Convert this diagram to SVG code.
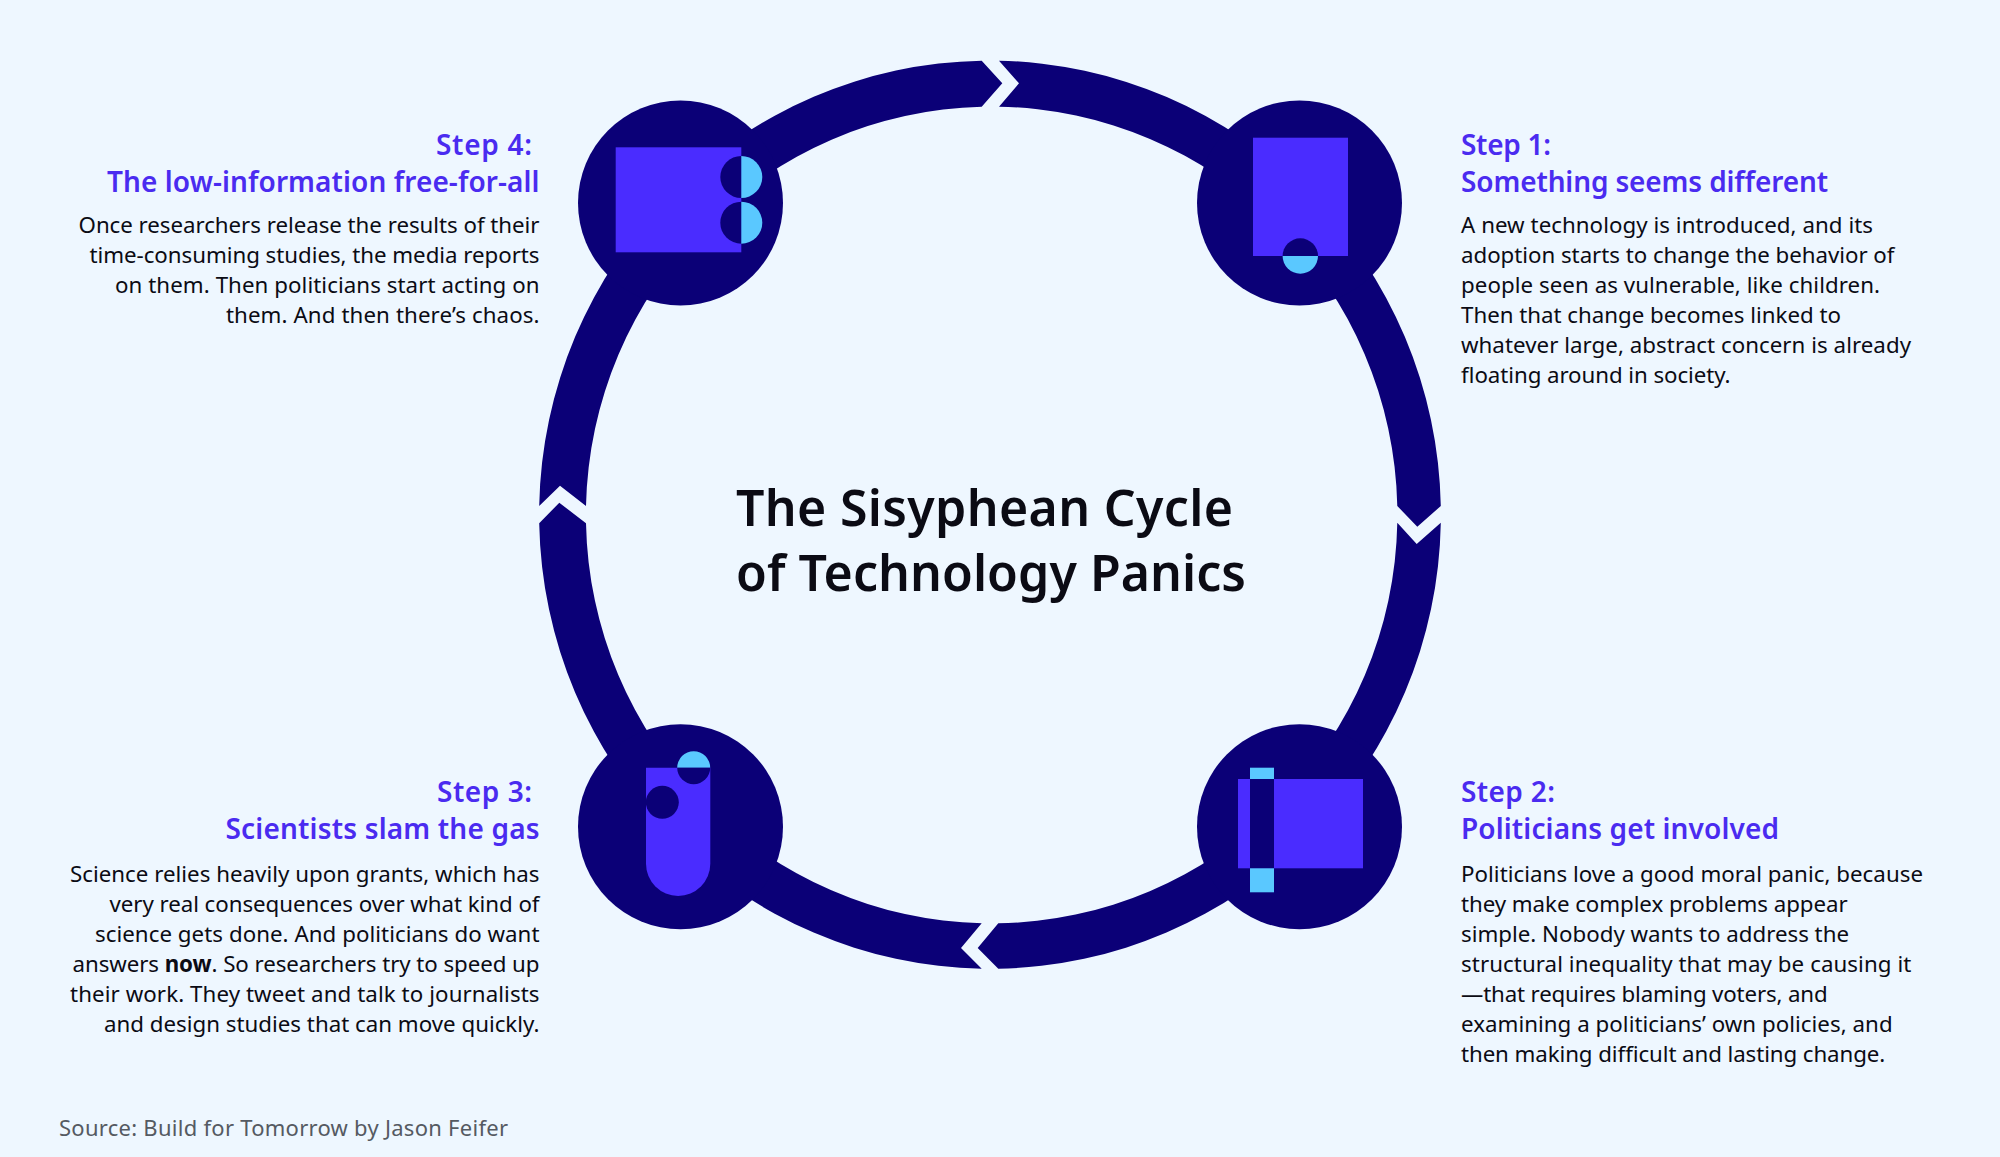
<svg xmlns="http://www.w3.org/2000/svg" width="2000" height="1157" viewBox="0 0 2000 1157">
<style>
text{font-family:"Noto Sans","Liberation Sans",sans-serif}
.h{font-size:28px;font-weight:600;fill:#4a2bf0}
.b{font-size:22.3px;fill:#0b0b14}
.e{text-anchor:end}
.m{font-size:50px;font-weight:600;fill:#0b0b14}
.n{fill:#0b0077}.p{fill:#4a2cff}.c{fill:#5ac8ff}
</style>
<rect width="2000" height="1157" fill="#eef7ff"/>
<g id="connectors" class="n">
<path d="M999 60.7A451 454 0 0 1 1440.8 506L1417.3 526.7 1397.3 506A405.5 408.3 0 0 0 999 106.7L1019 83.3Z"/>
<path d="M1440.8 522.7A451 454 0 0 1 998.3 968.7L977.7 948 998.3 923.3A405.5 408.3 0 0 0 1397.3 522.7L1416.7 544Z"/>
<path d="M981.7 968.7A451 454 0 0 1 539.2 523.3L559.3 502.7 586 523.3A405.5 408.3 0 0 0 981.7 923.3L961 948Z"/>
<path d="M539.2 506A451 454 0 0 1 981.7 60.7L1002.3 83.3 981.7 106.7A405.5 408.3 0 0 0 586 506L560 485.7Z"/>
</g>
<g id="step1">
<circle class="n" cx="1299.5" cy="203" r="102.5"/>
<rect class="p" x="1253" y="137.7" width="95" height="118.3"/>
<path class="n" d="M1282.6 256A17.7 17.7 0 0 1 1318 256Z"/>
<path class="c" d="M1282.6 256A17.7 17.7 0 0 0 1318 256Z"/>
<text class="h" x="1461" y="155" textLength="90">Step 1:</text>
<text class="h" x="1461" y="191.7" textLength="367">Something seems different</text>
<text class="b" x="1461" y="232.7" textLength="412">A new technology is introduced, and its</text>
<text class="b" x="1461" y="262.7" textLength="433.5">adoption starts to change the behavior of</text>
<text class="b" x="1461" y="292.7" textLength="419">people seen as vulnerable, like children.</text>
<text class="b" x="1461" y="322.7" textLength="380">Then that change becomes linked to</text>
<text class="b" x="1461" y="352.7" textLength="450">whatever large, abstract concern is already</text>
<text class="b" x="1461" y="382.7" textLength="269.5">floating around in society.</text>
</g>
<g id="step2">
<circle class="n" cx="1299.5" cy="826.7" r="102.5"/>
<rect class="p" x="1238" y="779" width="125" height="89.3"/>
<rect class="n" x="1250" y="779" width="24" height="89.3"/>
<rect class="c" x="1250" y="767.7" width="24" height="11.3"/>
<rect class="c" x="1250" y="868.3" width="24" height="24"/>
<text class="h" x="1461" y="802" textLength="94">Step 2:</text>
<text class="h" x="1461" y="838.5" textLength="318">Politicians get involved</text>
<text class="b" x="1461" y="881.7" textLength="462">Politicians love a good moral panic, because</text>
<text class="b" x="1461" y="911.7" textLength="386.6">they make complex problems appear</text>
<text class="b" x="1461" y="941.7" textLength="388">simple. Nobody wants to address the</text>
<text class="b" x="1461" y="971.7" textLength="450.3">structural inequality that may be causing it</text>
<text class="b" x="1461" y="1001.7" textLength="366.6">—that requires blaming voters, and</text>
<text class="b" x="1461" y="1031.7" textLength="431.6">examining a politicians’ own policies, and</text>
<text class="b" x="1461" y="1061.7" textLength="424.3">then making difficult and lasting change.</text>
</g>
<g id="step3">
<circle class="n" cx="680.5" cy="826.7" r="102.5"/>
<path class="p" d="M646 767.7H710.3V863.8A32.15 32.15 0 0 1 646 863.8Z"/>
<path class="c" d="M677.2 767.7A16.5 16.5 0 0 1 710.2 767.7Z"/>
<path class="n" d="M677.2 767.7A16.5 16.5 0 0 0 710.2 767.7Z"/>
<circle class="n" cx="662.3" cy="802.3" r="16.5"/>
<text class="h e" x="532" y="802" textLength="95">Step 3:</text>
<text class="h e" x="539.5" y="838.5" textLength="314">Scientists slam the gas</text>
<text class="b e" x="539.5" y="881.7" textLength="469.5">Science relies heavily upon grants, which has</text>
<text class="b e" x="539.5" y="911.7" textLength="430">very real consequences over what kind of</text>
<text class="b e" x="539.5" y="941.7" textLength="444.5">science gets done. And politicians do want</text>
<text class="b e" x="539.5" y="971.7" textLength="467">answers <tspan font-weight="700">now</tspan>. So researchers try to speed up</text>
<text class="b e" x="539.5" y="1001.7" textLength="469.5">their work. They tweet and talk to journalists</text>
<text class="b e" x="539.5" y="1031.7" textLength="435.5">and design studies that can move quickly.</text>
</g>
<g id="step4">
<circle class="n" cx="680.5" cy="203" r="102.5"/>
<rect class="p" x="615.7" y="147.3" width="125.6" height="105"/>
<path class="n" d="M741.3 156A21 21 0 0 0 741.3 198Z"/>
<path class="c" d="M741.3 156A21 21 0 0 1 741.3 198Z"/>
<path class="n" d="M741.3 201.7A21 21 0 0 0 741.3 243.7Z"/>
<path class="c" d="M741.3 201.7A21 21 0 0 1 741.3 243.7Z"/>
<text class="h e" x="532" y="155" textLength="96">Step 4:</text>
<text class="h e" x="539.5" y="191.7" textLength="432.5">The low-information free-for-all</text>
<text class="b e" x="539.5" y="232.7" textLength="461">Once researchers release the results of their</text>
<text class="b e" x="539.5" y="262.7" textLength="450">time-consuming studies, the media reports</text>
<text class="b e" x="539.5" y="292.7" textLength="424.5">on them. Then politicians start acting on</text>
<text class="b e" x="539.5" y="322.7" textLength="313.6">them. And then there’s chaos.</text>
</g>
<g id="title">
<text class="m" x="736" y="526" textLength="497">The Sisyphean Cycle</text>
<text class="m" x="736" y="590.5" textLength="510">of Technology Panics</text>
</g>
<text id="source" x="59" y="1136" font-size="22" fill="#555a62" textLength="449">Source: Build for Tomorrow by Jason Feifer</text>
</svg>
